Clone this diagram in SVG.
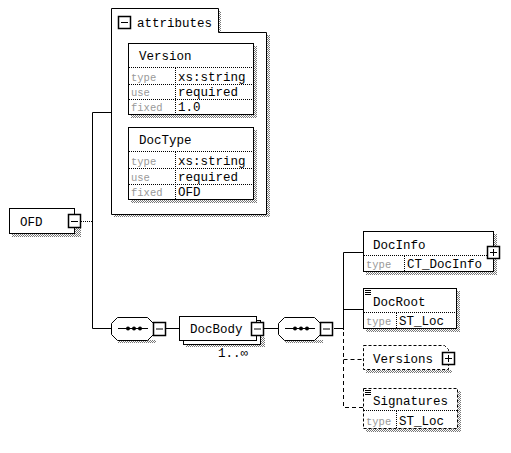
<svg xmlns="http://www.w3.org/2000/svg" width="511" height="453" viewBox="0 0 511 453">
<defs>
<pattern id="sh" width="2" height="2" patternUnits="userSpaceOnUse"><rect x="0" y="0" width="1" height="1" fill="#777"/><rect x="1" y="1" width="1" height="1" fill="#777"/></pattern>
</defs>
<style>
text{font-family:"Liberation Mono","DejaVu Sans Mono",monospace;font-size:12.5px;fill:#000}
.lbl{font-size:10.5px;fill:#999}
.box{fill:#fff;stroke:#000;stroke-width:1}
.dbox{fill:#fff;stroke:#000;stroke-width:1;stroke-dasharray:3,2}
.dot{stroke:#000;stroke-width:1;stroke-dasharray:1,1;fill:none}
.ln{stroke:#000;stroke-width:1;fill:none}
.dl{stroke:#000;stroke-width:1;fill:none;stroke-dasharray:4,3}
.sh{fill:url(#sh)}
.btn{fill:#fff;stroke:#000;stroke-width:1.5}
</style>
<rect width="511" height="453" fill="#fff"/>

<g id="connectors">
<line class="dot" x1="81" y1="221.5" x2="92" y2="221.5"/>
<polyline class="ln" points="111,112.5 92.5,112.5 92.5,328.5 111,328.5"/>
<line class="ln" x1="166" y1="328.5" x2="179" y2="328.5"/>
<line class="ln" x1="264" y1="328.5" x2="278" y2="328.5"/>
<line class="ln" x1="334" y1="328.5" x2="343" y2="328.5"/>
<polyline class="ln" points="363,252.5 343.5,252.5 343.5,330"/>
<line class="ln" x1="343.5" y1="309.5" x2="363" y2="309.5"/>
<polyline class="dl" points="343.5,332 343.5,407.5 363,407.5"/>
<line class="dl" x1="343.5" y1="359.5" x2="363" y2="359.5"/>
</g>

<g id="attributes">
<rect class="sh" x="266" y="35" width="4" height="182"/>
<rect class="sh" x="114" y="214" width="156" height="3"/>
<rect class="sh" x="218" y="11" width="3" height="21"/>
<path class="box" d="M111.5,214.5 V8.5 H218.5 V32.5 H266.5 V214.5 Z"/>
<rect class="btn" x="118.5" y="16.5" width="12" height="12"/>
<line class="ln" x1="121" y1="22.5" x2="128" y2="22.5"/>
<text x="137" y="27">attributes</text>
</g>

<g id="Version">
<rect class="sh" x="253" y="46" width="4" height="72"/>
<rect class="sh" x="131" y="115" width="126" height="3"/>
<rect class="box" x="128.5" y="43.5" width="125" height="71"/>
<line class="dot" x1="129" y1="67.5" x2="253" y2="67.5"/>
<line class="dot" x1="129" y1="84.5" x2="253" y2="84.5"/>
<line class="dot" x1="129" y1="99.5" x2="253" y2="99.5"/>
<line class="dot" x1="175.5" y1="68" x2="175.5" y2="114"/>
<text x="139" y="60">Version</text>
<text class="lbl" x="131" y="81">type</text>
<text class="lbl" x="131" y="96">use</text>
<text class="lbl" x="131" y="111">fixed</text>
<text x="178" y="81">xs:string</text>
<text x="178" y="96">required</text>
<text x="178" y="111">1.0</text>
</g>

<g id="DocType">
<rect class="sh" x="253" y="130" width="4" height="73"/>
<rect class="sh" x="131" y="200" width="126" height="3"/>
<rect class="box" x="128.5" y="127.5" width="125" height="72"/>
<line class="dot" x1="129" y1="151.5" x2="253" y2="151.5"/>
<line class="dot" x1="129" y1="168.5" x2="253" y2="168.5"/>
<line class="dot" x1="129" y1="184.5" x2="253" y2="184.5"/>
<line class="dot" x1="175.5" y1="152" x2="175.5" y2="199"/>
<text x="139" y="144">DocType</text>
<text class="lbl" x="131" y="165">type</text>
<text class="lbl" x="131" y="181">use</text>
<text class="lbl" x="131" y="196">fixed</text>
<text x="178" y="165">xs:string</text>
<text x="178" y="181">required</text>
<text x="178" y="196">OFD</text>
</g>

<g id="OFD">
<rect class="sh" x="12" y="233" width="69" height="4"/>
<rect class="sh" x="74" y="227" width="7" height="10"/>
<rect class="box" x="9.5" y="208.5" width="65" height="25"/>
<text x="20" y="226">OFD</text>
<rect class="btn" x="68.5" y="214.5" width="12" height="13"/>
<line class="ln" x1="71" y1="221.5" x2="78" y2="221.5"/>
</g>

<g id="sequence1">
<rect class="sh" x="118" y="340" width="38" height="3"/>
<polygon class="box" points="117.5,317.5 147.5,317.5 153.5,323.5 153.5,334.5 147.5,340.5 117.5,340.5 111.5,334.5 111.5,323.5"/>
<line class="ln" x1="118" y1="328.5" x2="148" y2="328.5"/>
<circle cx="128" cy="328.5" r="2"/>
<circle cx="134" cy="328.5" r="2"/>
<circle cx="140" cy="328.5" r="2"/>
<rect class="btn" x="153.5" y="322.5" width="12" height="13"/>
<line class="ln" x1="156" y1="329" x2="163" y2="329"/>
</g>

<g id="DocBody">
<rect class="sh" x="186" y="344" width="79" height="3"/>
<rect class="sh" x="261" y="337" width="4" height="10"/>
<rect class="box" x="183.5" y="320.5" width="77" height="24"/>
<rect class="box" x="179.5" y="316.5" width="77" height="24"/>
<text x="190" y="333">DocBody</text>
<rect class="btn" x="251.5" y="322.5" width="12" height="13"/>
<line class="ln" x1="254" y1="329" x2="261" y2="329"/>
<text x="218" y="357">1..∞</text>
</g>

<g id="sequence2">
<rect class="sh" x="285" y="340" width="38" height="3"/>
<polygon class="box" points="284.5,317.5 314.5,317.5 320.5,323.5 320.5,334.5 314.5,340.5 284.5,340.5 278.5,334.5 278.5,323.5"/>
<line class="ln" x1="285" y1="328.5" x2="315" y2="328.5"/>
<circle cx="295" cy="328.5" r="2"/>
<circle cx="301" cy="328.5" r="2"/>
<circle cx="307" cy="328.5" r="2"/>
<rect class="btn" x="320.5" y="322.5" width="12" height="13"/>
<line class="ln" x1="323" y1="329" x2="330" y2="329"/>
</g>

<g id="DocInfo">
<rect class="sh" x="493" y="234" width="4" height="41"/>
<rect class="sh" x="366" y="271" width="131" height="4"/>
<rect class="box" x="363.5" y="231.5" width="130" height="40"/>
<line class="dot" x1="364" y1="255.5" x2="493" y2="255.5"/>
<line class="dot" x1="404.5" y1="256" x2="404.5" y2="271"/>
<text x="373" y="249">DocInfo</text>
<text class="lbl" x="366" y="268">type</text>
<text x="407" y="268">CT_DocInfo</text>
<rect class="btn" x="487.5" y="246.5" width="12" height="12"/>
<line class="ln" x1="490" y1="252.5" x2="497" y2="252.5"/>
<line class="ln" x1="493.5" y1="249" x2="493.5" y2="256"/>
</g>

<g id="DocRoot">
<rect class="sh" x="456" y="291" width="4" height="41"/>
<rect class="sh" x="366" y="328" width="94" height="4"/>
<rect class="box" x="363.5" y="288.5" width="93" height="40"/>
<line class="dot" x1="364" y1="312.5" x2="456" y2="312.5"/>
<line class="dot" x1="396.5" y1="313" x2="396.5" y2="328"/>
<line class="ln" x1="365" y1="290.5" x2="371" y2="290.5"/>
<line class="ln" x1="365" y1="292.5" x2="371" y2="292.5"/>
<line class="ln" x1="365" y1="294.5" x2="371" y2="294.5"/>
<text x="373" y="306">DocRoot</text>
<text class="lbl" x="366" y="325">type</text>
<text x="399" y="325">ST_Loc</text>
</g>

<g id="Versions">
<rect class="sh" x="366" y="370" width="86" height="3"/>
<path class="dbox" d="M363.5,345.5 H444.5 L448.5,349.5 V369.5 H363.5 Z"/>
<text x="373" y="363">Versions</text>
<rect class="btn" x="442.5" y="352.5" width="12" height="12"/>
<line class="ln" x1="445" y1="358.5" x2="452" y2="358.5"/>
<line class="ln" x1="448.5" y1="355" x2="448.5" y2="362"/>
</g>

<g id="Signatures">
<rect class="sh" x="457" y="391" width="4" height="41"/>
<rect class="sh" x="366" y="428" width="95" height="4"/>
<rect class="dbox" x="363.5" y="388.5" width="94" height="40"/>
<line class="dot" x1="364" y1="410.5" x2="457" y2="410.5"/>
<line class="dot" x1="396.5" y1="411" x2="396.5" y2="428"/>
<line class="ln" x1="365" y1="390.5" x2="371" y2="390.5"/>
<line class="ln" x1="365" y1="392.5" x2="371" y2="392.5"/>
<line class="ln" x1="365" y1="394.5" x2="371" y2="394.5"/>
<text x="373" y="405">Signatures</text>
<text class="lbl" x="366" y="425">type</text>
<text x="399" y="425">ST_Loc</text>
</g>
</svg>
